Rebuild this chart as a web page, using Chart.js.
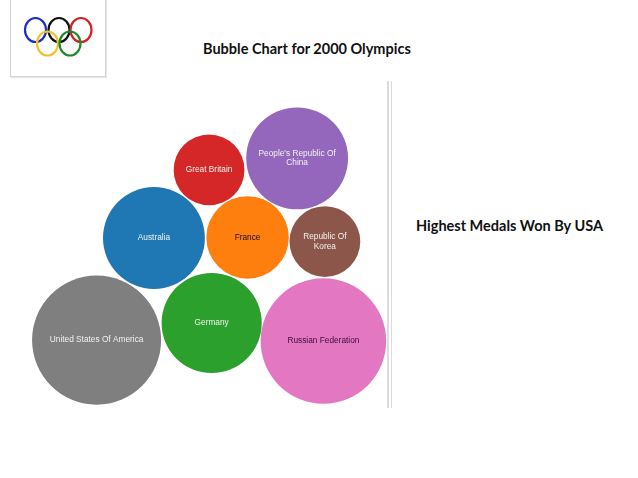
<!DOCTYPE html>
<html>
<head>
<meta charset="utf-8">
<script src="https://cdn.jsdelivr.net/npm/chart.js@4"></script>
<style>
  body { margin: 0; background: #fff; width: 638px; height: 478px; position: relative; overflow: hidden; }
  .logo { position: absolute; left: 10px; top: -1px; width: 94px; height: 76px; border: 1px solid #d4d4d4; box-shadow: 1px 1px 1px #e8e8e8; }
  .title { position: absolute; font-family: Lato, "Open Sans", sans-serif; font-weight: bold; font-size: 14.5px; color: #111; white-space: nowrap; }
  .rule { position: absolute; top: 81px; height: 327px; background: #dcdcdc; }
  #wrap { position: absolute; left: 20px; top: 95px; width: 370px; height: 320px; }
</style>
</head>
<body>
<div class="logo">
  <svg width="94" height="76" viewBox="0 0 94 76">
    <g fill="none" stroke-width="2.2">
      <ellipse cx="24.5" cy="30" rx="10.5" ry="12" stroke="#1a2fc8"/>
      <ellipse cx="48" cy="30" rx="10.5" ry="12" stroke="#111"/>
      <ellipse cx="70" cy="30" rx="10.5" ry="12" stroke="#d81e1e"/>
      <ellipse cx="36.5" cy="43.5" rx="10.5" ry="12" stroke="#f2c12e"/>
      <ellipse cx="59" cy="43.5" rx="10.5" ry="12" stroke="#1c8a2a"/>
    </g>
  </svg>
</div>
<div class="title" id="mainTitle" style="left:203px; top:40px;">Bubble Chart for 2000 Olympics</div>
<div class="title" id="sideTitle" style="left:416px; top:217px;">Highest Medals Won By USA</div>
<div class="rule" style="left:387px; width:2px;"></div>
<div class="rule" style="left:391px; width:1px;"></div>
<div id="wrap"><canvas id="bubbleChart"></canvas></div>
<script>
// countries, total medals (bubble area) and their spot in the packed layout
const countries = ['United States Of America', 'Germany', 'Russian Federation', 'Australia',
    'France', 'Republic Of Korea', 'Great Britain', "People's Republic Of China"];
const labelLines = [['United States Of America'], ['Germany'], ['Russian Federation'], ['Australia'],
    ['France'], ['Republic Of', 'Korea'], ['Great Britain'], ["People's Republic Of", 'China']];
const medals = [93, 56, 88, 58, 38, 28, 28, 58];
const packX = [20.7, 51.8, 82.0, 36.2, 61.5, 82.4, 51.1, 74.9];
const packY = [23.4, 28.75, 23.1, 55.3, 55.5, 54.2, 76.6, 80.2];

const colors = ['#7f7f7f', '#2ca02c', '#e377c2', '#1f77b4', '#ff7f0e', '#8c564b', '#d62728', '#9467bd'];
const textColors = ['#f2f2f2', '#f2f2f2', '#3b0d3b', '#f2f2f2', '#111111', '#f2f2f2', '#f2f2f2', '#f2f2f2'];
const radiusScale = 6.69;

const bubbleLabels = {
    id: 'bubbleLabels',
    afterDatasetsDraw(chart) {
        const ctx = chart.ctx;
        const meta = chart.getDatasetMeta(0);
        ctx.save();
        ctx.font = '8.3px "Liberation Sans", Arial, sans-serif';
        ctx.textAlign = 'center';
        ctx.textBaseline = 'middle';
        meta.data.forEach((pt, i) => {
            const lines = labelLines[i];
            ctx.fillStyle = textColors[i];
            lines.forEach((line, j) => {
                const dy = (j - (lines.length - 1) / 2) * 9.5;
                ctx.fillText(line, pt.x, pt.y + dy);
            });
        });
        ctx.restore();
    }
};

const ctx = document.getElementById('bubbleChart').getContext('2d');
new Chart(ctx, {
    type: 'bubble',
    data: {
        labels: countries,
        datasets: [{
            label: 'Medals',
            data: countries.map((c, i) => ({ x: packX[i], y: packY[i], r: radiusScale * Math.sqrt(medals[i]) })),
            backgroundColor: colors,
            borderColor: colors,
            borderWidth: 0,
            hoverRadius: 0,
            clip: false
        }]
    },
    options: {
        responsive: true,
        maintainAspectRatio: false,
        animation: false,
        layout: { padding: 0, autoPadding: false },
        plugins: {
            legend: { display: false },
            tooltip: { enabled: false }
        },
        scales: {
            x: { min: 0, max: 100, display: false },
            y: { min: 0, max: 100, display: false }
        }
    },
    plugins: [bubbleLabels]
});
</script>
</body>
</html>
